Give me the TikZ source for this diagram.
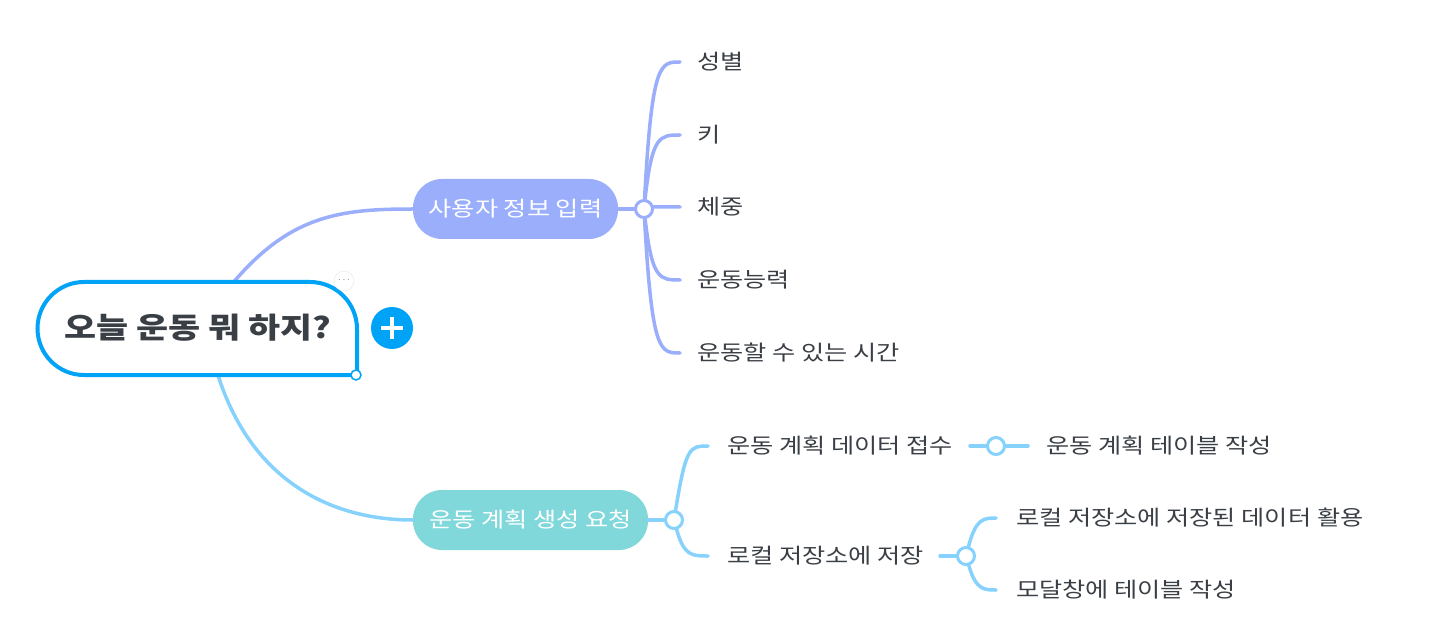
\documentclass[tikz,border=0pt]{standalone}
\usepackage{fontspec}
\setmainfont[FakeStretch=1.2]{Noto Sans CJK KR}
\begin{document}
\begin{tikzpicture}[x=1pt,y=-1pt,
  lbl/.style={anchor=west,inner sep=0pt,font=\fontsize{21}{24}\selectfont,text=txt},
  pill/.style={rounded corners=29pt,minimum height=60pt,text=white,font=\fontsize{21}{24}\selectfont,inner xsep=14pt},
  hub/.style={circle,draw,fill=white,line width=3pt,minimum size=17pt,inner sep=0pt},
  conn/.style={line width=3.5pt,line cap=round}]
\definecolor{txt}{HTML}{3A3F45}
\definecolor{pur}{HTML}{9AAEFC}
\definecolor{teal}{HTML}{80D8DA}
\definecolor{sky}{HTML}{86D2FC}
\definecolor{blu}{HTML}{00A3F5}
\useasboundingbox (0,0) rectangle (1431,617);
% root
\coordinate (rt) at (232,284);
\coordinate (rb) at (217,372);
\node[pill,fill=pur,minimum width=205pt] (b1) at (515.5,209) {사용자 정보 입력};
\node[pill,fill=teal,minimum width=235pt] (b2) at (530.5,520) {운동 계획 생성 요청};
\draw[conn,pur] (rt) .. controls (290,215) and (340,209) .. (b1.west);
\draw[conn,sky] (rb) .. controls (250,480) and (330,520) .. (b2.west);
\draw[blu,line width=4pt,fill=white] (357,375) -- (84,375) arc[start angle=90,end angle=270,radius=46.5] -- (310,282) arc[start angle=270,end angle=360,radius=47] -- cycle;
\node[font=\fontsize{29}{32}\selectfont\bfseries,text=txt] (root) at (198,328) {오늘 운동 뭐 하지?};
\node[circle,draw=blu,fill=white,line width=1.5pt,minimum size=10pt,inner sep=0pt] (rc) at (356,375) {};
\node[circle,draw=gray!20,fill=white,minimum size=20pt,inner sep=0pt,text=gray,font=\fontsize{10}{10}\selectfont] (dots) at (344,281) {\raisebox{2pt}{$\cdots$}};
\node[circle,fill=blu,minimum size=42pt,inner sep=0pt] (plus) at (392,328) {};
\draw[white,line width=3.5pt] (381,328) -- (403,328) (392,317) -- (392,339);
% branch 1
\node[hub,draw=pur] (h1) at (644,209) {};
\draw[conn,pur] (b1.east) -- (h1.west);
\foreach \t/\y [count=\i] in {성별/62,키/135,체중/207,운동능력/280,운동할 수 있는 시간/353}{
  \node[lbl] (p\i) at (697,\y) {\t};
  \coordinate (e\i) at (680,\y);
  \draw[conn,pur] (h1) .. controls (652,\y) and (660,\y) .. (e\i);
}
% branch 2
\node[hub,draw=sky] (h2) at (674,520) {};
\draw[conn,sky] (b2.east) -- (h2.west);
\node[lbl] (s1) at (727,446) {운동 계획 데이터 접수};
\node[lbl] (s2) at (727,556) {로컬 저장소에 저장};
\coordinate (f1) at (708,446); \coordinate (f2) at (708,556);
\draw[conn,sky] (h2) .. controls (686,446) and (690,446) .. (f1);
\draw[conn,sky] (h2) .. controls (684,556) and (692,556) .. (f2);
\node[hub,draw=sky] (h3) at (996,446) {};
\coordinate (g1) at (970,446); \coordinate (g2) at (1028,446);
\draw[conn,sky] (g1) -- (h3) -- (g2);
\node[lbl] (t1) at (1046,446) {운동 계획 테이블 작성};
\node[hub,draw=sky] (h4) at (966,556) {};
\coordinate (g3) at (940,556);
\draw[conn,sky] (g3) -- (h4);
\node[lbl] (u1) at (1016,518) {로컬 저장소에 저장된 데이터 활용};
\node[lbl] (u2) at (1016,590) {모달창에 테이블 작성};
\coordinate (k1) at (996,518); \coordinate (k2) at (996,590);
\draw[conn,sky] (h4) .. controls (976,518) and (984,518) .. (k1);
\draw[conn,sky] (h4) .. controls (976,590) and (984,590) .. (k2);
\end{tikzpicture}
\end{document}
